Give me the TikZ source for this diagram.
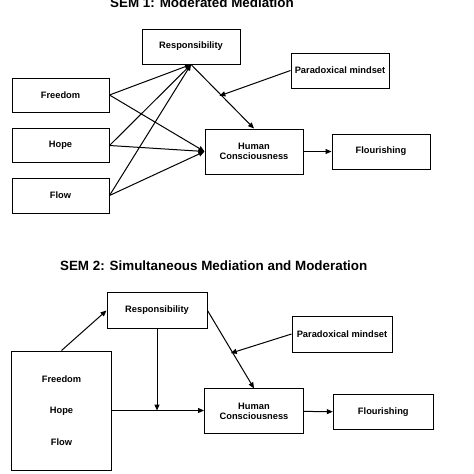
\documentclass[tikz,border=0pt]{standalone}
\usepackage{fontspec}
\setmainfont{Liberation Sans}
\usetikzlibrary{arrows.meta,calc,positioning}

\begin{document}
\begin{tikzpicture}[x=1pt, y=-1pt,
    box/.style={draw, line width=1pt, align=center, inner sep=1pt,
        font=\fontsize{9.3}{10.5}\selectfont\bfseries},
    arr/.style={line width=1pt, -{Triangle[length=6pt,width=5pt]}},
    heading/.style={anchor=base, font=\fontsize{13.4}{15}\selectfont\bfseries}]
    \useasboundingbox (0,0) rectangle (474,474);

    % SEM 1 (top)
    \node[heading] (title1) at (202,7.5) {SEM 1: Moderated Mediation};
    \node[box, minimum width=98pt, minimum height=35pt] (resp1) at (191,46.5) {Responsibility};
    \node[box, minimum width=98pt, minimum height=35pt] (para1) at (340,70.5) {Paradoxical mindset};
    \node[box, minimum width=97pt, minimum height=34pt] (free1) at (60.5,95) {Freedom};
    \node[box, minimum width=97pt, minimum height=34pt] (hope1) at (60.5,145.5) {Hope};
    \node[box, minimum width=97pt, minimum height=35pt] (flow1) at (60.5,195.5) {Flow};
    \node[box, minimum width=98pt, minimum height=45pt] (hc1) at (254,151.5) {Human\\Consciousness};
    \node[box, minimum width=98pt, minimum height=35pt] (flour1) at (381,151.5) {Flourishing};
    \coordinate (mod1) at ($(resp1.south)!0.48!(hc1.north)$);

    \foreach \src in {free1,hope1,flow1} {
        \draw[arr] (\src.east) -- (resp1.south);
        \draw[arr] (\src.east) -- (hc1.west);
    }
    \draw[arr] (resp1.south) -- (hc1.north);
    \draw[arr, shorten >=-2pt] (para1.west) -- (mod1);
    \draw[arr] (hc1.east) -- (flour1.west);

    % SEM 2 (bottom)
    \node[heading] (title2) at (213.7,270) {SEM 2: Simultaneous Mediation and Moderation};
    \node[box, minimum width=100pt, minimum height=36pt] (resp2) at (157,310.5) {Responsibility};
    \node[box, minimum width=100pt, minimum height=36pt] (para2) at (342,334) {Paradoxical mindset};
    \node[box, minimum width=100pt, minimum height=119pt] (pred2) at (61.5,410.5) {Freedom\\[21pt]Hope\\[21pt]Flow};
    \node[box, minimum width=99pt, minimum height=45pt] (hc2) at (254,411.4) {Human\\Consciousness};
    \node[box, minimum width=100pt, minimum height=35pt] (flour2) at (383.3,411.7) {Flourishing};
    \coordinate (join2) at (resp2.south |- pred2.east);
    \coordinate (mod2) at ($(resp2.east)!0.54!(hc2.north)$);

    \draw[arr] (pred2.north) -- (resp2.west);
    \draw[arr] (resp2.south) -- (join2);
    \draw[arr] (pred2.east) -- (pred2.east -| hc2.west);
    \draw[arr] (resp2.east) -- (hc2.north);
    \draw[arr, shorten >=-2pt] (para2.west) -- (mod2);
    \draw[arr] (hc2.east) -- (flour2.west);
\end{tikzpicture}
\end{document}
